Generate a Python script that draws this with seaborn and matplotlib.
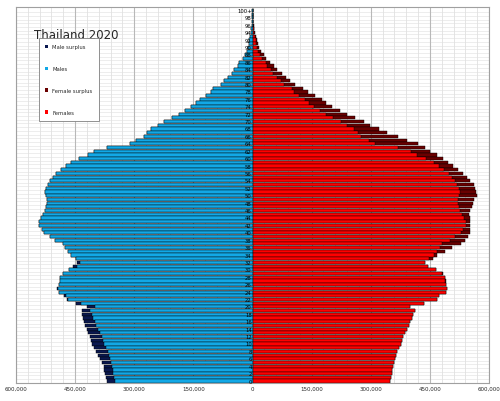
import numpy as np
import pandas as pd
import seaborn as sns
import matplotlib.pyplot as plt
from matplotlib.patches import Patch
from matplotlib.ticker import MultipleLocator, FuncFormatter

ages = [str(a) for a in range(100)] + ["100+"]
# thousands
males = [370,372,374,376,377,382,388,393,397,402,
         406,410,413,417,421,425,428,431,432,432,
         420,448,470,478,490,495,490,488,488,480,
         465,455,445,448,460,468,475,480,500,514,
         529,535,541,541,536,532,526,524,521,522,
         524,526,524,520,514,506,499,486,473,461,
         440,418,402,370,311,296,276,267,258,241,
         225,203,187,170,157,144,132,119,106,99,
         81,73,63,51,48,38,33,25,20,15,
         12,10,8,6,5,3.5,2.5,1.8,1.2,0.8,1.2]
females = [349,351,353,355,356,359,361,363,366,371,
           376,379,383,388,392,396,400,404,408,412,
           399,435,468,474,491,494,492,491,488,483,
           466,446,438,459,468,489,505,528,539,547,
           552,552,553,552,552,550,552,556,560,561,
           570,568,565,561,552,543,535,522,509,496,
           484,467,450,437,420,392,370,341,320,299,
           282,261,240,221,202,187,176,159,142,129,
           108,96,84,75,62,54,44,35,28,22,
           17,14,11,8,6.5,5,3.5,2.5,1.8,1.2,2]

m = np.array(males) * 1000
f = np.array(females) * 1000
df = pd.DataFrame({"age": ages, "male": -m, "female": f,
                   "male_base": -np.minimum(m, f), "female_base": np.minimum(m, f)})
order = ages[::-1]

sns.set_style("white")
plt.rcParams['font.family'] = ['DejaVu Sans']
fig = plt.figure(figsize=(5, 4.02), dpi=100)
ax = fig.add_axes([0.032, 0.045, 0.946, 0.935])

ax.xaxis.set_major_locator(MultipleLocator(150000))
ax.xaxis.set_minor_locator(MultipleLocator(30000))
ax.grid(True, which='major', axis='x', color='#b8b8b8', lw=0.8)
ax.grid(True, which='minor', axis='x', color='#e0e0e0', lw=0.6)
ax.set_axisbelow(True)
for i in range(len(ages)):
    ax.axhline(i + 0.5, color='#e6e6e6', lw=0.5, zorder=0)

kw = dict(y="age", order=order, orient="h", width=0.85, edgecolor="black", linewidth=0.3, ax=ax)
sns.barplot(data=df, x="male", color="#0a1850", saturation=1, **kw)
sns.barplot(data=df, x="female", color="#6a0000", saturation=1, **kw)
sns.barplot(data=df, x="male_base", color="#12a8e6", saturation=1, **kw)
sns.barplot(data=df, x="female_base", color="#ff0000", saturation=1, **kw)

ax.set_xlim(-600000, 600000)
ax.set_ylim(len(ages) - 0.5, -0.9)
ax.set_yticks([])
ax.set_ylabel("")
ax.set_xlabel("")
ax.xaxis.set_major_formatter(FuncFormatter(lambda v, p: f"{abs(int(v)):,}"))
ax.tick_params(axis='x', labelsize=4, length=0, pad=2)
for s in ax.spines.values():
    s.set_color('#a0a0a0'); s.set_linewidth(0.8)

for i, a in enumerate(order):
    if i % 2 == 0:
        ax.text(-2000, i, a, ha='right', va='center', fontsize=3.8, color='black')

ax.text(-555000, 6.5, "Thailand 2020", fontsize=8.5, va='center')
handles = [Patch(facecolor=c, edgecolor='none', label=l) for c, l in
           [("#0a1850", "Male surplus"), ("#12a8e6", "Males"),
            ("#6a0000", "Female surplus"), ("#ff0000", "Females")]]
leg = ax.legend(handles=handles, loc='upper left', bbox_to_anchor=(0.042, 0.925),
                fontsize=3.8, handlelength=0.6, handleheight=0.6, labelspacing=3.2,
                borderpad=1.2, fancybox=False, framealpha=1, edgecolor='#808080')
leg.get_frame().set_linewidth(0.6)

fig.savefig("out.png", dpi=100)
